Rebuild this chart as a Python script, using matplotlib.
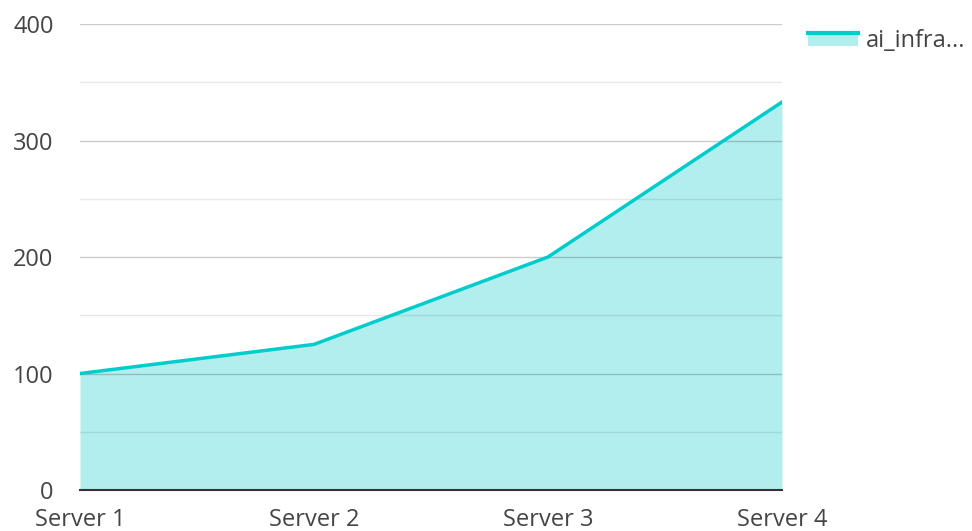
import numpy as np
import matplotlib
matplotlib.use("Agg")
import matplotlib.pyplot as plt
from matplotlib.patches import Rectangle
from matplotlib.lines import Line2D
from matplotlib.legend_handler import HandlerBase

plt.rcParams['font.family'] = ['Open Sans', 'DejaVu Sans']

# data
categories = ["Server 1", "Server 2", "Server 3", "Server 4"]
values = [100, 125, 200, 333]
series_name = "ai_infra..."

line_color = "#00cccc"
fill_color = "#b2eeee"
text_color = "#444444"


class AreaHandler(HandlerBase):
    # fill patch with the line sitting on its top edge
    def create_artists(self, legend, orig_handle, xdescent, ydescent,
                       width, height, fontsize, trans):
        rect = Rectangle((-xdescent, -ydescent), width, height,
                         facecolor=fill_color, edgecolor='none', transform=trans)
        ln = Line2D([-xdescent, -xdescent + width],
                    [-ydescent + height - 1.1, -ydescent + height - 1.1],
                    color=line_color, linewidth=3, transform=trans)
        return [rect, ln]


fig = plt.figure(figsize=(9.72, 5.31), dpi=100)
ax = fig.add_axes([0.0823, 0.0772, 0.8045 - 0.0823, 0.9548 - 0.0772])

x = np.arange(len(categories))
ax.fill_between(x, 0, values, color=fill_color, linewidth=0, zorder=1)
ax.plot(x, values, color=line_color, linewidth=2.5, zorder=3)

ax.set_xlim(0, len(categories) - 1)
ax.set_ylim(0, 400)
ax.set_yticks([0, 100, 200, 300, 400])
ax.set_xticks(x)
ax.set_xticklabels(categories)

# gridlines over the fill, under the line
for v in [100, 200, 300, 400]:
    ax.axhline(v, color=(0, 0, 0, 0.2), linewidth=1, zorder=2)
for v in [50, 150, 250, 350]:
    ax.axhline(v, color=(0, 0, 0, 0.09), linewidth=1, zorder=2)
ax.axhline(0, color="#333333", linewidth=1.5, zorder=4, clip_on=False)

for s in ax.spines.values():
    s.set_visible(False)
ax.tick_params(axis='both', which='both', length=0, labelsize=17, colors=text_color)
ax.tick_params(axis='y', pad=19)
ax.tick_params(axis='x', pad=13)

leg = fig.legend([object()], [series_name], loc='upper left',
                 bbox_to_anchor=(808 / 972, 1 - 29 / 531), frameon=False,
                 handler_map={object: AreaHandler()},
                 handlelength=2.1, handleheight=0.6, fontsize=17,
                 handletextpad=0.34, borderpad=0, borderaxespad=0,
                 labelcolor=text_color)

fig.savefig("out.png", dpi=100)
